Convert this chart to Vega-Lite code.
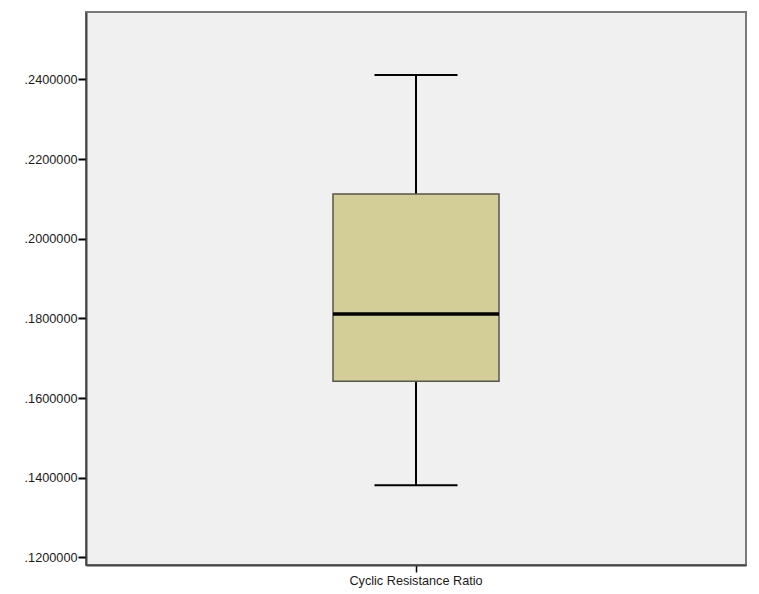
{
  "$schema": "https://vega.github.io/schema/vega-lite/v6.json",
  "width": 660,
  "height": 553,
  "autosize": {"type": "none"},
  "padding": {"left": 86, "top": 12, "right": 13, "bottom": 29},
  "background": "white",
  "config": {
    "view": {"fill": "#F0F0F0", "stroke": "#7A7A7A", "strokeWidth": 2},
    "font": "Liberation Sans"
  },
  "data": {
    "values": [
      {"var": "Cyclic Resistance Ratio", "lower": 0.1381, "q1": 0.1642, "median": 0.1811, "q3": 0.2112, "upper": 0.2411}
    ]
  },
  "encoding": {
    "x": {
      "field": "var",
      "type": "nominal",
      "scale": {"paddingInner": 0, "paddingOuter": 0},
      "axis": {
        "title": null,
        "labelAngle": 0,
        "labelFontSize": 12.7,
        "labelColor": "#1A1A1A",
        "labelPadding": 2,
        "tickColor": "#000000",
        "tickSize": 7,
        "tickWidth": 1.5,
        "domainColor": "#444444",
        "domainWidth": 2
      }
    }
  },
  "layer": [
    {
      "mark": {"type": "rule", "color": "#000000", "strokeWidth": 2},
      "encoding": {
        "y": {
          "field": "lower",
          "type": "quantitative",
          "scale": {"domain": [0.1181, 0.2569], "nice": false, "zero": false},
          "axis": {
            "title": null,
            "values": [0.12, 0.14, 0.16, 0.18, 0.2, 0.22, 0.24],
            "labelExpr": "substring(format(datum.value, '.7f'), 1)",
            "labelFontSize": 12.7,
            "labelColor": "#1A1A1A",
            "labelPadding": 1,
            "tickColor": "#000000",
            "tickSize": 8,
            "tickWidth": 2,
            "domainColor": "#444444",
            "domainWidth": 2,
            "grid": false
          }
        },
        "y2": {"field": "q1"}
      }
    },
    {
      "mark": {"type": "rule", "color": "#000000", "strokeWidth": 2},
      "encoding": {
        "y": {"field": "q3", "type": "quantitative"},
        "y2": {"field": "upper"}
      }
    },
    {
      "mark": {"type": "tick", "color": "#000000", "opacity": 1, "size": 83, "thickness": 2},
      "encoding": {"y": {"field": "lower", "type": "quantitative"}}
    },
    {
      "mark": {"type": "tick", "color": "#000000", "opacity": 1, "size": 83, "thickness": 2},
      "encoding": {"y": {"field": "upper", "type": "quantitative"}}
    },
    {
      "mark": {"type": "bar", "size": 166, "fill": "#D3CE98", "opacity": 1, "stroke": "#55554A", "strokeWidth": 1.5},
      "encoding": {
        "y": {"field": "q1", "type": "quantitative"},
        "y2": {"field": "q3"}
      }
    },
    {
      "mark": {"type": "tick", "color": "#000000", "opacity": 1, "size": 166, "thickness": 3.5},
      "encoding": {"y": {"field": "median", "type": "quantitative"}}
    }
  ]
}
